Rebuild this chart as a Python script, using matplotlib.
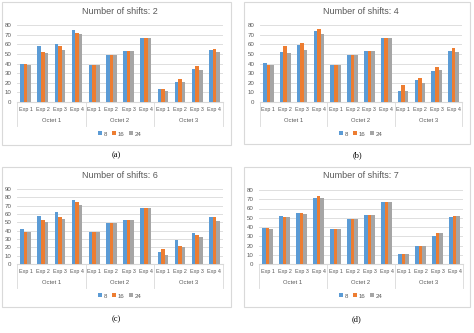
import matplotlib
matplotlib.use("Agg")
import matplotlib.pyplot as plt
from matplotlib.patches import Rectangle
from matplotlib.lines import Line2D
import numpy as np

plt.rcParams['font.family'] = ['Liberation Sans', 'DejaVu Sans']

series_names = ["8", "16", "24"]
colors = ["#5B9BD5", "#ED7D31", "#A5A5A5"]
exp_labels = ["Exp 1", "Exp 2", "Exp 3", "Exp 4"]
octet_labels = ["Octet 1", "Octet 2", "Octet 3"]
titles = ["Number of shifts: 2", "Number of shifts: 4", "Number of shifts: 6", "Number of shifts: 7"]
captions = ["(a)", "(b)", "(c)", "(d)"]
ymax_list = [80, 80, 90, 80]

shifts2_s8 = [40, 58, 60, 75, 38, 49, 53, 67, 13, 21, 34, 54]
shifts2_s16 = [40, 52, 58, 72, 38, 49, 53, 67, 14, 24, 37, 55]
shifts2_s24 = [38, 51, 54, 71, 38, 49, 53, 67, 11, 21, 33, 52]

shifts4_s8 = [41, 52, 59, 74, 38, 49, 53, 67, 11, 23, 32, 53]
shifts4_s16 = [38, 58, 61, 76, 38, 49, 53, 67, 18, 25, 36, 56]
shifts4_s24 = [38, 51, 54, 71, 38, 49, 53, 67, 11, 20, 33, 52]

shifts6_s8 = [42, 58, 63, 77, 38, 49, 53, 67, 14, 29, 37, 57]
shifts6_s16 = [39, 53, 56, 75, 38, 49, 53, 67, 18, 22, 35, 56]
shifts6_s24 = [38, 51, 54, 71, 38, 49, 53, 67, 11, 21, 32, 52]

shifts7_s8 = [39, 52, 55, 71, 38, 49, 53, 67, 11, 20, 30, 51]
shifts7_s16 = [39, 51, 55, 73, 38, 49, 53, 67, 11, 20, 33, 52]
shifts7_s24 = [38, 51, 54, 71, 38, 49, 53, 67, 11, 20, 33, 52]

panels_data = [
    [shifts2_s8, shifts2_s16, shifts2_s24],
    [shifts4_s8, shifts4_s16, shifts4_s24],
    [shifts6_s8, shifts6_s16, shifts6_s24],
    [shifts7_s8, shifts7_s16, shifts7_s24],
]

W, H = 474, 333
fig = plt.figure(figsize=(W / 100, H / 100), dpi=100)


def fx(px):
    return px / W


def fy(py):
    return 1 - py / H


# (box l, t, r, b), (plot l, t, r, b), title y, caption (x, y)
layout = [
    ((2, 2, 231, 145), (17, 25, 223, 102), 12, (116, 155)),
    ((244, 2, 470, 144), (260, 25, 462, 102), 12, (357, 155)),
    ((2, 167, 231, 307), (17, 189, 223, 264), 175, (116, 319)),
    ((244, 167, 470, 307), (259, 190, 463, 264), 176, (357, 319)),
]

grid_c = "#D9D9D9"
text_c = "#595959"

for i, (box, plot, ty, cap) in enumerate(layout):
    bl, bt, br, bb = box
    fig.patches.append(Rectangle((fx(bl), fy(bb)), fx(br) - fx(bl), fy(bt) - fy(bb),
                                 transform=fig.transFigure, fill=False,
                                 edgecolor=grid_c, linewidth=0.8))
    pl, pt, pr, pb = plot
    ax = fig.add_axes([fx(pl), fy(pb), fx(pr) - fx(pl), fy(pt) - fy(pb)])
    ph = pb - pt
    n = 12
    x = np.arange(n)
    w = 0.21
    for k in range(3):
        ax.bar(x + (k - 1) * w, panels_data[i][k], width=w, color=colors[k],
               label=series_names[k], zorder=3)
    ymax = ymax_list[i]
    ax.set_ylim(0, ymax)
    ax.set_xlim(-0.5, n - 0.5)
    ax.set_yticks(np.arange(0, ymax + 1, 10))
    ax.yaxis.grid(True, color=grid_c, linewidth=0.6, zorder=0)
    ax.tick_params(axis='y', length=0, labelsize=4.4, labelcolor=text_c, pad=4)
    ax.set_xticks([])
    for s in ["top", "right", "left"]:
        ax.spines[s].set_visible(False)
    ax.spines["bottom"].set_color(grid_c)
    ax.spines["bottom"].set_linewidth(0.8)
    # category labels
    for j in range(n):
        ax.text(x[j], -8 / ph, exp_labels[j % 4], transform=ax.get_xaxis_transform(),
                ha="center", va="center", fontsize=3.9, color=text_c, clip_on=False)
    for g in range(3):
        ax.text(g * 4 + 1.5, -18 / ph, octet_labels[g], transform=ax.get_xaxis_transform(),
                ha="center", va="center", fontsize=4.2, color=text_c, clip_on=False)
    for b in [-0.5, 3.5, 7.5, 11.5]:
        ax.add_line(Line2D([b, b], [0, -24 / ph], transform=ax.get_xaxis_transform(),
                           color=grid_c, linewidth=0.6, clip_on=False))
    ax.text(0.5, 1 + (pt - ty) / ph, titles[i], transform=ax.transAxes,
            fontsize=6.5, color="#595959", ha="center", va="center")
    ax.legend(loc="center", bbox_to_anchor=(0.5, -32 / ph), ncol=3, frameon=False,
              fontsize=4.4, handlelength=0.6, handleheight=0.6, handletextpad=0.3,
              columnspacing=0.8, labelcolor=text_c)
    fig.text(fx(cap[0]), fy(cap[1]), captions[i], ha="center", va="center",
             fontsize=6, family="Liberation Serif")

fig.savefig("out.png", dpi=100)
